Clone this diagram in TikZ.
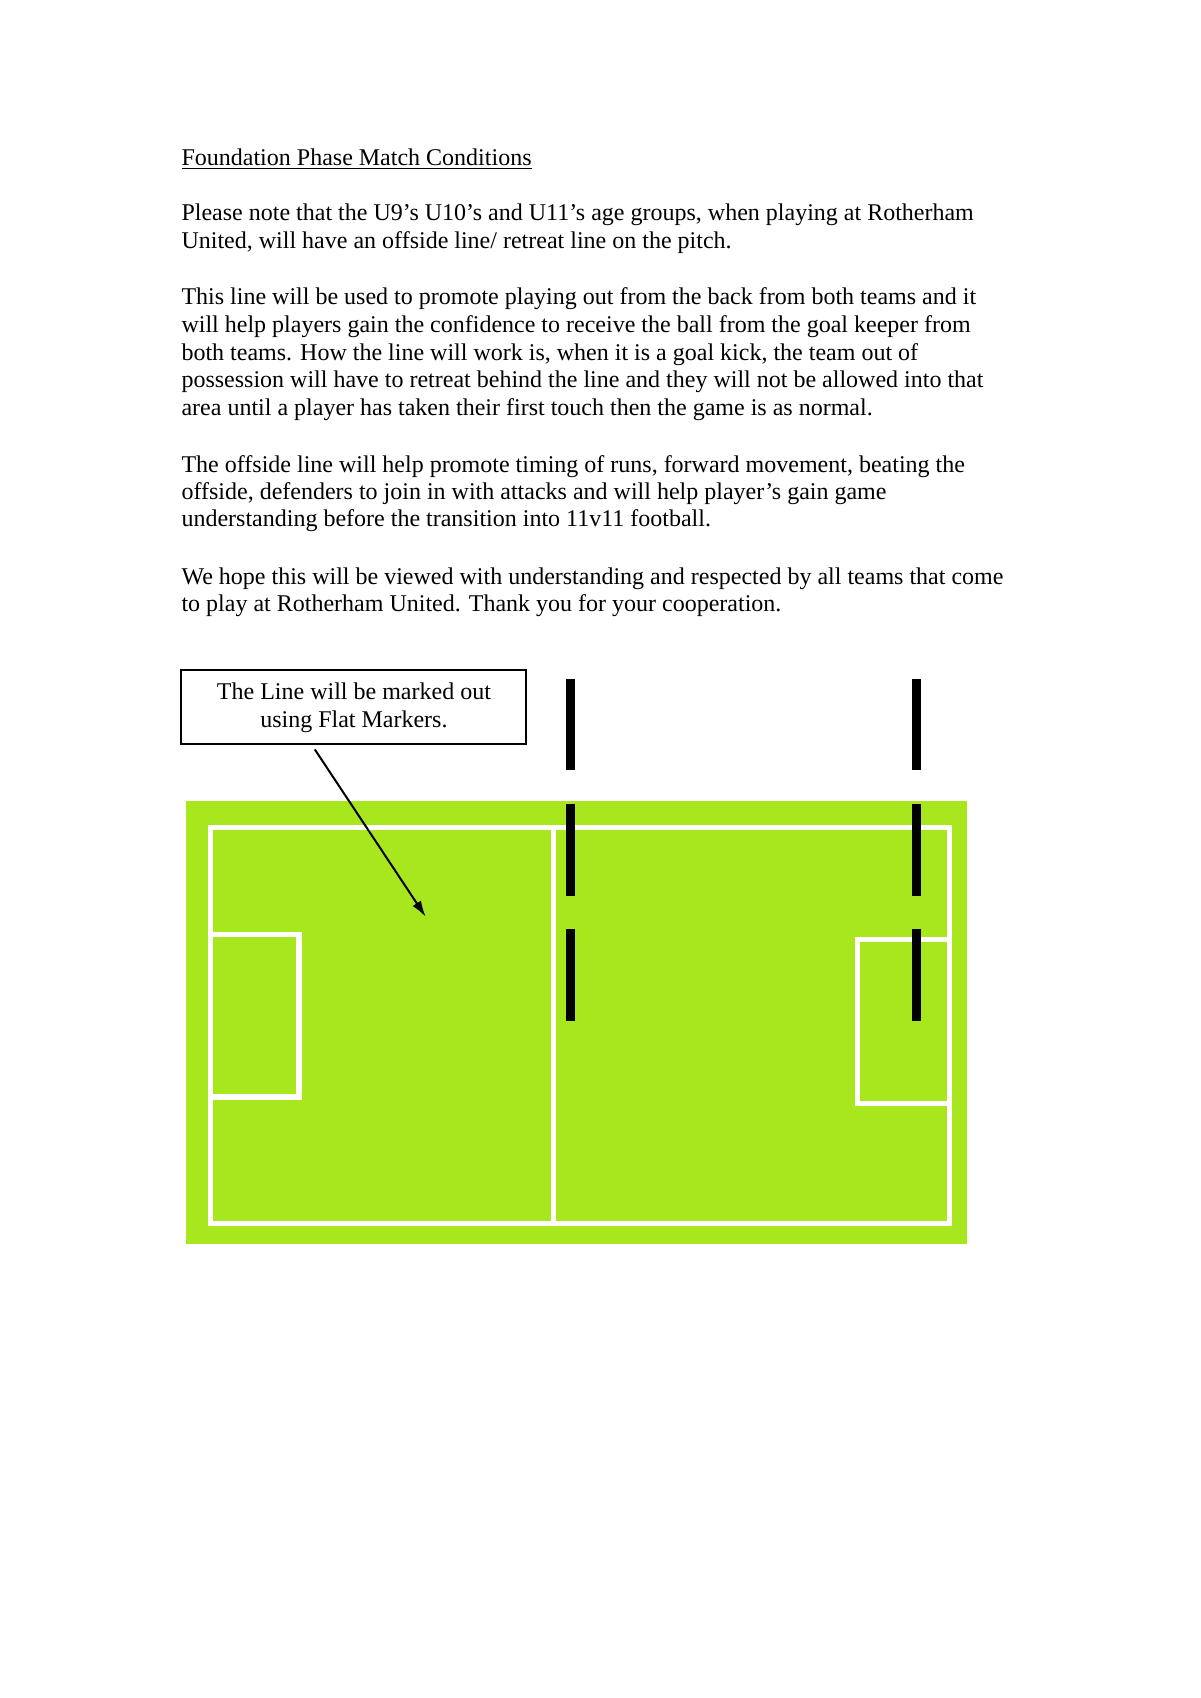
\documentclass[tikz,border=0pt]{standalone}
\usepackage{fontspec}
\setmainfont{Liberation Serif}
\usetikzlibrary{arrows.meta}
\begin{document}
\begin{tikzpicture}[x=0.5pt,y=-0.5pt,
  txt/.style={anchor=base west,inner sep=0pt,font=\fontsize{12}{14}\selectfont},
  wl/.style={white,line width=2.6pt},
  mk/.style={black,line width=4.5pt}]
\useasboundingbox (0,0) rectangle (1200,1698);
\definecolor{grass}{HTML}{A8E61E}
\begin{scope}[x=0.495pt,y=-0.495pt]
\node[txt] (t0) at (183,167) {\underline{Foundation Phase Match Conditions}};
\node[txt] (a1) at (183,223) {Please note that the U9’s U10’s and U11’s age groups, when playing at Rotherham};
\node[txt] (a2) at (183,251) {United, will have an offside line/ retreat line on the pitch.};
\node[txt] (b1) at (183,308) {This line will be used to promote playing out from the back from both teams and it};
\node[txt] (b2) at (183,336) {will help players gain the confidence to receive the ball from the goal keeper from};
\node[txt] (b3) at (183,364) {both teams. How the line will work is, when it is a goal kick, the team out of};
\node[txt] (b4) at (183,391) {possession will have to retreat behind the line and they will not be allowed into that};
\node[txt] (b5) at (183,420) {area until a player has taken their first touch then the game is as normal.};
\node[txt] (c1) at (183,477) {The offside line will help promote timing of runs, forward movement, beating the};
\node[txt] (c2) at (183,505) {offside, defenders to join in with attacks and will help player’s gain game};
\node[txt] (c3) at (183,532) {understanding before the transition into 11v11 football.};
\node[txt] (d1) at (183,590) {We hope this will be viewed with understanding and respected by all teams that come};
\node[txt] (d2) at (183,618) {to play at Rotherham United. Thank you for your cooperation.};
% pitch
\fill[grass] (188,809) rectangle (977,1257);
\draw[wl] (213,836) rectangle (959,1236);
\draw[wl] (559,836) -- (559,1236);
\draw[wl] (213,944) -- (302,944) -- (302,1108) -- (213,1108);
\draw[wl] (959,949) -- (866,949) -- (866,1115) -- (959,1115);
% markers
\foreach \x in {576,926}{
  \draw[mk] (\x,686) -- (\x,778);
  \draw[mk] (\x,812) -- (\x,905);
  \draw[mk] (\x,938) -- (\x,1031);
}
% callout
\node[draw,line width=1pt,minimum width=172.5pt,minimum height=37pt,inner sep=0pt,align=center,
  font=\fontsize{12}{14}\selectfont] (box) at (357.5,714.5) {The Line will be marked out\\using Flat Markers.};
\coordinate (tip) at (430,926);
\draw[-{Latex[length=8pt,width=5pt]},line width=1pt] (318,757) -- (tip);
\end{scope}
\end{tikzpicture}
\end{document}
